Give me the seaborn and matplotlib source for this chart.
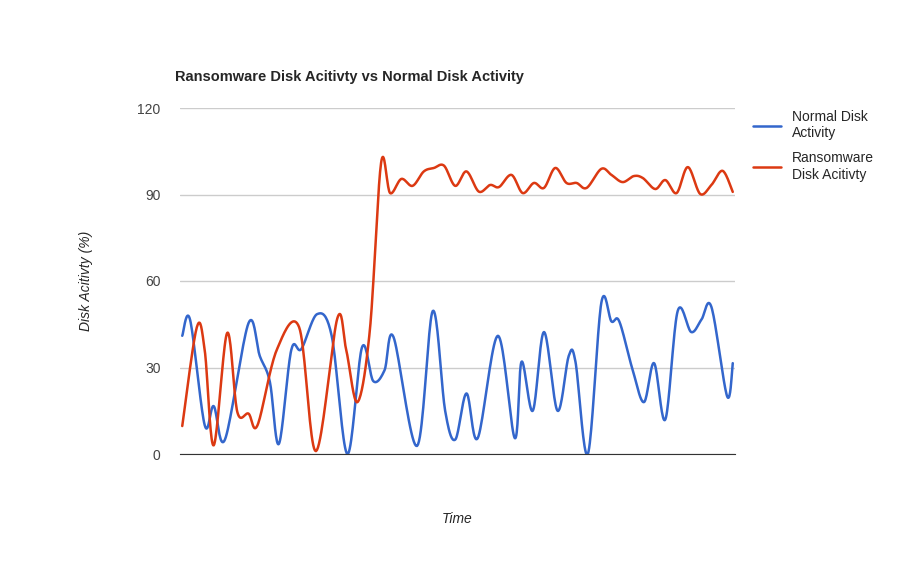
import numpy as np
import pandas as pd
import matplotlib
matplotlib.use("Agg")
import matplotlib.pyplot as plt
import seaborn as sns

# time positions (in chart time units 0..49) and values
normal_t = [0.0, 0.7, 2.0, 2.8, 3.8, 5.9, 6.9, 7.8, 8.6, 9.7, 10.6, 12.0, 13.3, 14.7, 16.0, 17.0, 18.0, 18.8, 20.9, 22.3, 23.4, 24.3, 25.3, 26.3, 28.1, 29.6, 30.2, 31.2, 32.2, 33.4, 34.4, 35.0, 36.1, 37.3, 38.2, 38.9, 40.1, 41.1, 42.0, 43.0, 44.1, 45.3, 46.2, 47.1, 48.5, 49.0]
normal_v = [41, 46.5, 10, 16.6, 5, 45.4, 34, 25, 3.5, 36, 36.4, 48.5, 41, 0, 37, 25.3, 29, 40.6, 2.8, 49.6, 15, 5, 21, 5.5, 41, 5.5, 32, 15, 42.3, 15, 34, 32, 0, 52.4, 46, 46, 29, 18, 31.5, 12, 49.6, 42.3, 46.5, 51, 20, 31.5]
ransom_t = [0.0, 1.3, 2.0, 2.8, 4.0, 4.9, 5.9, 6.7, 8.4, 10.4, 11.9, 13.8, 14.6, 15.6, 16.7, 17.7, 18.5, 19.5, 20.5, 21.5, 22.4, 23.3, 24.3, 25.3, 26.4, 27.4, 28.2, 29.3, 30.3, 31.3, 32.2, 33.2, 34.2, 35.1, 36.0, 37.3, 38.2, 39.2, 40.2, 41.0, 42.1, 43.0, 44.0, 45.0, 46.1, 47.1, 48.1, 49.0]
ransom_v = [9.7, 44, 36, 3, 42, 14.6, 14, 10, 36, 44, 1, 47, 36, 18, 43, 101, 90.5, 95.4, 93, 98, 99.2, 100, 93, 98, 91, 93.3, 92.6, 96.8, 90.5, 94, 92.3, 99.2, 94, 94, 92.3, 98.9, 96.8, 94.3, 96.4, 95.7, 91.9, 95, 90.5, 99.5, 90.2, 93.3, 98.2, 90.9]

def smooth(t, v, n=20):
    t = np.asarray(t, float); v = np.asarray(v, float)
    P = np.column_stack([t, v])
    P = np.vstack([P[0], P, P[-1]])
    out = []
    for i in range(1, len(P) - 2):
        p0, p1, p2, p3 = P[i-1], P[i], P[i+1], P[i+2]
        s = np.linspace(0, 1, n, endpoint=False)[:, None]
        seg = 0.5 * ((2*p1) + (-p0 + p2)*s + (2*p0 - 5*p1 + 4*p2 - p3)*s**2 + (-p0 + 3*p1 - 3*p2 + p3)*s**3)
        out.append(seg)
    out.append(P[-2][None, :])
    out = np.vstack(out)
    return out[:, 0], out[:, 1]

nt, nv = smooth(normal_t, normal_v)
rt, rv = smooth(ransom_t, ransom_v)
df = pd.concat([
    pd.DataFrame({"Time": nt, "val": nv, "series": "Normal Disk\nActivity"}),
    pd.DataFrame({"Time": rt, "val": rv, "series": "Ransomware\nDisk Acitivty"}),
])

sns.set_style("white")
plt.rcParams['font.family'] = ['Arial', 'Liberation Sans', 'DejaVu Sans']
fig = plt.figure(figsize=(9.1, 5.62), dpi=100)
ax = fig.add_axes([180/910, 108/562, 555/910, 346/562])
sns.lineplot(data=df, x="Time", y="val", hue="series", sort=False,
             palette=["#3366cc", "#dc3912"], linewidth=1.8, ax=ax, estimator=None)
ax.set_xlim(-0.2, 49.2)
ax.set_ylim(0, 120)
ax.set_yticks([0, 30, 60, 90, 120])
ax.set_xticks([])
ax.grid(axis='y', color='#cccccc', linewidth=1)
for s in ['top', 'right', 'left']:
    ax.spines[s].set_visible(False)
ax.spines['bottom'].set_color('#333333')
ax.tick_params(axis='y', length=0, labelsize=10, colors='#444444', pad=14)
ax.set_xlabel("Time", fontstyle='italic', fontsize=10, labelpad=42)
ax.set_ylabel("Disk Acitivty (%)", fontstyle='italic', fontsize=10, labelpad=32)
fig.text(175/910, 1 - 77/562, "Ransomware Disk Acitivty vs Normal Disk Activity",
         fontsize=10.5, fontweight='bold', va='center', ha='left')
leg = ax.legend(loc='upper left', bbox_to_anchor=(1.01, 1.03), frameon=False,
                fontsize=10, handlelength=2, labelspacing=0.8, title=None)
fig.savefig("out.png", dpi=100)
